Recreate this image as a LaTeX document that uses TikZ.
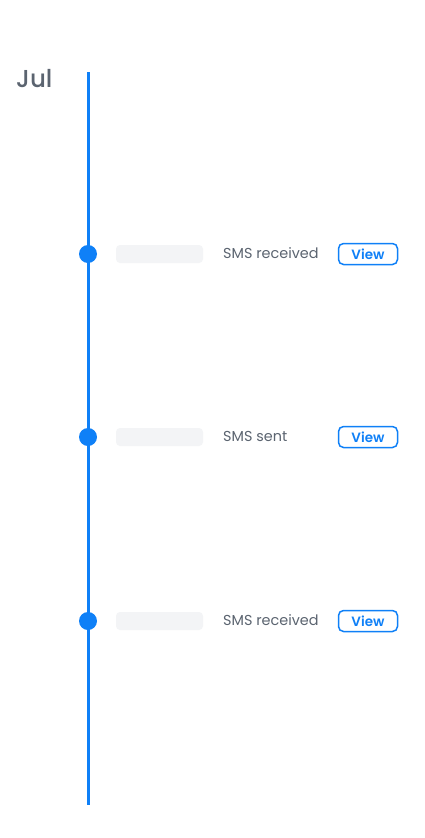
\documentclass[tikz,border=0pt]{standalone}
\usepackage{fontspec}
\setmainfont{Poppins}
\newfontfamily\medfont{Poppins Medium}
\newfontfamily\semifont{Poppins SemiBold}
\definecolor{tlblue}{HTML}{0F80F7}
\definecolor{tlgrey}{HTML}{F3F4F6}
\definecolor{tltext}{HTML}{5B6470}
\begin{document}
\begin{tikzpicture}[x=1pt,y=-1pt,
  dot/.style={circle,fill=tlblue,inner sep=0pt,minimum size=18pt},
  placeholder/.style={rectangle,rounded corners=4pt,fill=tlgrey,minimum width=87pt,minimum height=18pt,inner sep=0pt},
  evtext/.style={anchor=west,inner sep=0pt,text=tltext,font=\fontsize{14.4pt}{16pt}\selectfont},
  viewbtn/.style={rectangle,rounded corners=5pt,draw=tlblue,line width=1.5pt,text=tlblue,minimum width=59pt,minimum height=21pt,inner sep=0pt,font=\fontsize{13.5pt}{15pt}\semifont}
]
\useasboundingbox (0,0) rectangle (424,838);
\fill[white] (0,0) rectangle (424,838);
\coordinate (top) at (88,72);
\coordinate (bot) at (88,805);
\draw[tlblue,line width=3pt] (top) -- (bot);
\node[anchor=west,inner sep=0pt,text=tltext,font=\fontsize{24.5pt}{26pt}\medfont] (jul) at (16,79) {Jul};
\foreach \y/\t [count=\i] in {254/SMS received,437/SMS sent,621/SMS received}{
  \node[dot] (d\i) at (88,\y) {};
  \node[placeholder] (p\i) at (159.5,\y) {};
  \node[evtext] (t\i) at (223,\y-1) {\t};
  \node[viewbtn] (v\i) at (368,\y) {View};
}
\end{tikzpicture}
\end{document}
